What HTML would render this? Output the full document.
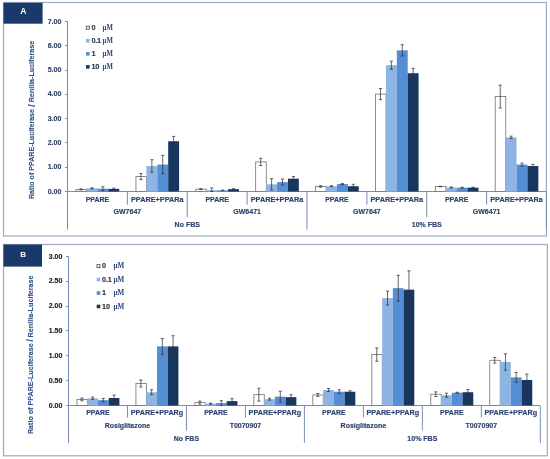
<!DOCTYPE html>
<html><head><meta charset="utf-8"><title>PPARE luciferase assay</title>
<style>
html,body{margin:0;padding:0;background:#fff;}
body{width:550px;height:459px;overflow:hidden;}
svg{display:block;}
.s{font-family:'Liberation Sans', Arial, sans-serif;font-weight:bold;font-size:7px;}
.lt{fill:#fff;}
.ay{fill:#344466;stroke:#344466;stroke-width:0.15;}
.by{fill:#1E1E1E;stroke:#1E1E1E;stroke-width:0.15;}
.cl{fill:#2D436D;stroke:#2D436D;stroke-width:0.15;}
.yt{fill:#33508A;stroke:#33508A;stroke-width:0.12;}
.al{fill:#27324A;stroke:#27324A;stroke-width:0.1;font-size:7.4px;letter-spacing:-0.25px;}
.bl{fill:#2a2a2a;stroke:#2a2a2a;stroke-width:0.1;font-size:7.2px;letter-spacing:-0.15px;}
.mu{font-family:'Liberation Serif', 'Times New Roman', serif;font-weight:bold;font-size:7.6px;fill:#2B4478;}
</style></head>
<body>
<svg width="550" height="459" viewBox="0 0 550 459">
<rect width="550" height="459" fill="#fff"/>
<rect x="3.5" y="2.5" width="542.9" height="233.5" fill="none" stroke="#9CAAC2" stroke-width="1.2"/>
<rect x="3.5" y="2.8" width="39.1" height="20.9" fill="#18396A"/>
<text class="s lt" x="23.4" y="14.2" text-anchor="middle" style="font-size:8.5px">A</text>
<line x1="65" y1="191.5" x2="67.5" y2="191.5" stroke="#7A8DB0" stroke-width="1"/>
<text class="s ay" x="61.3" y="193.6" text-anchor="end">0.00</text>
<line x1="65" y1="167.5" x2="67.5" y2="167.5" stroke="#7A8DB0" stroke-width="1"/>
<text class="s ay" x="61.3" y="169.31" text-anchor="end">1.00</text>
<line x1="65" y1="142.5" x2="67.5" y2="142.5" stroke="#7A8DB0" stroke-width="1"/>
<text class="s ay" x="61.3" y="145.03" text-anchor="end">2.00</text>
<line x1="65" y1="118.5" x2="67.5" y2="118.5" stroke="#7A8DB0" stroke-width="1"/>
<text class="s ay" x="61.3" y="120.74" text-anchor="end">3.00</text>
<line x1="65" y1="94.5" x2="67.5" y2="94.5" stroke="#7A8DB0" stroke-width="1"/>
<text class="s ay" x="61.3" y="96.46" text-anchor="end">4.00</text>
<line x1="65" y1="70.5" x2="67.5" y2="70.5" stroke="#7A8DB0" stroke-width="1"/>
<text class="s ay" x="61.3" y="72.17" text-anchor="end">5.00</text>
<line x1="65" y1="45.5" x2="67.5" y2="45.5" stroke="#7A8DB0" stroke-width="1"/>
<text class="s ay" x="61.3" y="47.89" text-anchor="end">6.00</text>
<line x1="65" y1="21.5" x2="67.5" y2="21.5" stroke="#7A8DB0" stroke-width="1"/>
<text class="s ay" x="61.3" y="23.6" text-anchor="end">7.00</text>
<line x1="67.5" y1="21.5" x2="67.5" y2="229.5" stroke="#7A8DB0" stroke-width="1"/>
<line x1="65" y1="191.5" x2="546.5" y2="191.5" stroke="#7A8DB0" stroke-width="1"/>
<line x1="127.38" y1="191.5" x2="127.38" y2="204.7" stroke="#7A8DB0" stroke-width="1"/>
<line x1="187.25" y1="191.5" x2="187.25" y2="217.2" stroke="#7A8DB0" stroke-width="1"/>
<line x1="247.12" y1="191.5" x2="247.12" y2="204.7" stroke="#7A8DB0" stroke-width="1"/>
<line x1="307" y1="191.5" x2="307" y2="229.5" stroke="#7A8DB0" stroke-width="1"/>
<line x1="366.88" y1="191.5" x2="366.88" y2="204.7" stroke="#7A8DB0" stroke-width="1"/>
<line x1="426.75" y1="191.5" x2="426.75" y2="217.2" stroke="#7A8DB0" stroke-width="1"/>
<line x1="486.62" y1="191.5" x2="486.62" y2="204.7" stroke="#7A8DB0" stroke-width="1"/>
<line x1="546.5" y1="191.5" x2="546.5" y2="229.5" stroke="#7A8DB0" stroke-width="1"/>
<rect x="76.06" y="189.4" width="10.59" height="2.1" fill="#fff" stroke="#707070" stroke-width="0.8"/>
<rect x="86.55" y="188.3" width="10.89" height="3.2" fill="#8EB4E3"/>
<rect x="97.44" y="188.67" width="10.89" height="2.83" fill="#558ED5"/>
<rect x="108.32" y="188.91" width="10.89" height="2.59" fill="#17375E"/>
<path d="M81.11 188.91V189.88M79.51 188.91H82.71M79.51 189.88H82.71" stroke="#333333" stroke-width="0.75" fill="none"/>
<path d="M91.99 187.82V188.79M90.39 187.82H93.59M90.39 188.79H93.59" stroke="#333333" stroke-width="0.75" fill="none"/>
<path d="M102.88 186.72V190.61M101.28 186.72H104.48M101.28 190.61H104.48" stroke="#333333" stroke-width="0.75" fill="none"/>
<path d="M113.77 188.18V189.64M112.17 188.18H115.37M112.17 189.64H115.37" stroke="#333333" stroke-width="0.75" fill="none"/>
<rect x="135.94" y="176.51" width="10.59" height="14.99" fill="#fff" stroke="#707070" stroke-width="0.8"/>
<rect x="146.43" y="166.06" width="10.89" height="25.44" fill="#8EB4E3"/>
<rect x="157.31" y="164.6" width="10.89" height="26.9" fill="#558ED5"/>
<rect x="168.2" y="141.26" width="10.89" height="50.24" fill="#17375E"/>
<path d="M140.98 173.48V179.55M139.38 173.48H142.58M139.38 179.55H142.58" stroke="#333333" stroke-width="0.75" fill="none"/>
<path d="M151.87 159.74V172.38M150.27 159.74H153.47M150.27 172.38H153.47" stroke="#333333" stroke-width="0.75" fill="none"/>
<path d="M162.76 155.36V173.84M161.16 155.36H164.36M161.16 173.84H164.36" stroke="#333333" stroke-width="0.75" fill="none"/>
<path d="M173.64 136.4V146.13M172.04 136.4H175.24M172.04 146.13H175.24" stroke="#333333" stroke-width="0.75" fill="none"/>
<rect x="195.81" y="189.16" width="10.59" height="2.34" fill="#fff" stroke="#707070" stroke-width="0.8"/>
<rect x="206.3" y="190.13" width="10.89" height="1.37" fill="#8EB4E3"/>
<rect x="217.19" y="190.37" width="10.89" height="1.13" fill="#558ED5"/>
<rect x="228.07" y="189.16" width="10.89" height="2.34" fill="#17375E"/>
<path d="M200.86 188.67V189.64M199.26 188.67H202.46M199.26 189.64H202.46" stroke="#333333" stroke-width="0.75" fill="none"/>
<path d="M211.74 187.94V191.5M210.14 187.94H213.34M210.14 191.5H213.34" stroke="#333333" stroke-width="0.75" fill="none"/>
<path d="M222.63 190.13V190.61M221.03 190.13H224.23M221.03 190.61H224.23" stroke="#333333" stroke-width="0.75" fill="none"/>
<path d="M233.52 188.67V189.64M231.92 188.67H235.12M231.92 189.64H235.12" stroke="#333333" stroke-width="0.75" fill="none"/>
<rect x="255.69" y="161.93" width="10.59" height="29.57" fill="#fff" stroke="#707070" stroke-width="0.8"/>
<rect x="266.18" y="184.29" width="10.89" height="7.21" fill="#8EB4E3"/>
<rect x="277.06" y="182.11" width="10.89" height="9.39" fill="#558ED5"/>
<rect x="287.95" y="178.7" width="10.89" height="12.8" fill="#17375E"/>
<path d="M260.73 158.28V165.57M259.13 158.28H262.33M259.13 165.57H262.33" stroke="#333333" stroke-width="0.75" fill="none"/>
<path d="M271.62 178.7V189.88M270.02 178.7H273.22M270.02 189.88H273.22" stroke="#333333" stroke-width="0.75" fill="none"/>
<path d="M282.51 179.07V185.14M280.91 179.07H284.11M280.91 185.14H284.11" stroke="#333333" stroke-width="0.75" fill="none"/>
<path d="M293.39 176.51V180.89M291.79 176.51H294.99M291.79 180.89H294.99" stroke="#333333" stroke-width="0.75" fill="none"/>
<rect x="315.56" y="186.48" width="10.59" height="5.02" fill="#fff" stroke="#707070" stroke-width="0.8"/>
<rect x="326.05" y="186.24" width="10.89" height="5.26" fill="#8EB4E3"/>
<rect x="336.94" y="184.05" width="10.89" height="7.45" fill="#558ED5"/>
<rect x="347.82" y="186.24" width="10.89" height="5.26" fill="#17375E"/>
<path d="M320.61 185.75V187.21M319.01 185.75H322.21M319.01 187.21H322.21" stroke="#333333" stroke-width="0.75" fill="none"/>
<path d="M331.49 185.75V186.72M329.89 185.75H333.09M329.89 186.72H333.09" stroke="#333333" stroke-width="0.75" fill="none"/>
<path d="M342.38 183.56V184.54M340.78 183.56H343.98M340.78 184.54H343.98" stroke="#333333" stroke-width="0.75" fill="none"/>
<path d="M353.27 184.29V188.18M351.67 184.29H354.87M351.67 188.18H354.87" stroke="#333333" stroke-width="0.75" fill="none"/>
<rect x="375.44" y="94.1" width="10.59" height="97.4" fill="#fff" stroke="#707070" stroke-width="0.8"/>
<rect x="385.93" y="65.17" width="10.89" height="126.33" fill="#8EB4E3"/>
<rect x="396.81" y="50.35" width="10.89" height="141.15" fill="#558ED5"/>
<rect x="407.7" y="73.2" width="10.89" height="118.3" fill="#17375E"/>
<path d="M380.48 88.51V99.69M378.88 88.51H382.08M378.88 99.69H382.08" stroke="#333333" stroke-width="0.75" fill="none"/>
<path d="M391.37 61.16V69.19M389.77 61.16H392.97M389.77 69.19H392.97" stroke="#333333" stroke-width="0.75" fill="none"/>
<path d="M402.26 44.75V55.94M400.66 44.75H403.86M400.66 55.94H403.86" stroke="#333333" stroke-width="0.75" fill="none"/>
<path d="M413.14 68.33V78.06M411.54 68.33H414.74M411.54 78.06H414.74" stroke="#333333" stroke-width="0.75" fill="none"/>
<rect x="435.31" y="186.48" width="10.59" height="5.02" fill="#fff" stroke="#707070" stroke-width="0.8"/>
<rect x="445.8" y="187.45" width="10.89" height="4.05" fill="#8EB4E3"/>
<rect x="456.69" y="187.7" width="10.89" height="3.8" fill="#558ED5"/>
<rect x="467.57" y="187.7" width="10.89" height="3.8" fill="#17375E"/>
<path d="M440.36 186.24V186.72M438.76 186.24H441.96M438.76 186.72H441.96" stroke="#333333" stroke-width="0.75" fill="none"/>
<path d="M451.24 186.97V187.94M449.64 186.97H452.84M449.64 187.94H452.84" stroke="#333333" stroke-width="0.75" fill="none"/>
<path d="M462.13 187.21V188.18M460.53 187.21H463.73M460.53 188.18H463.73" stroke="#333333" stroke-width="0.75" fill="none"/>
<path d="M473.02 187.21V188.18M471.42 187.21H474.62M471.42 188.18H474.62" stroke="#333333" stroke-width="0.75" fill="none"/>
<rect x="495.19" y="96.53" width="10.59" height="94.97" fill="#fff" stroke="#707070" stroke-width="0.8"/>
<rect x="505.68" y="137.37" width="10.89" height="54.13" fill="#8EB4E3"/>
<rect x="516.56" y="164.6" width="10.89" height="26.9" fill="#558ED5"/>
<rect x="527.45" y="166.06" width="10.89" height="25.44" fill="#17375E"/>
<path d="M500.23 85.11V107.96M498.63 85.11H501.83M498.63 107.96H501.83" stroke="#333333" stroke-width="0.75" fill="none"/>
<path d="M511.12 136.16V138.59M509.52 136.16H512.72M509.52 138.59H512.72" stroke="#333333" stroke-width="0.75" fill="none"/>
<path d="M522.01 163.14V166.06M520.41 163.14H523.61M520.41 166.06H523.61" stroke="#333333" stroke-width="0.75" fill="none"/>
<path d="M532.89 164.36V167.76M531.29 164.36H534.49M531.29 167.76H534.49" stroke="#333333" stroke-width="0.75" fill="none"/>
<text x="97.44" y="201.8" text-anchor="middle" class="s cl">PPARE</text>
<text x="157.31" y="201.8" text-anchor="middle" class="s cl" textLength="52.6" lengthAdjust="spacingAndGlyphs">PPARE+PPARa</text>
<text x="217.19" y="201.8" text-anchor="middle" class="s cl">PPARE</text>
<text x="277.06" y="201.8" text-anchor="middle" class="s cl" textLength="52.6" lengthAdjust="spacingAndGlyphs">PPARE+PPARa</text>
<text x="336.94" y="201.8" text-anchor="middle" class="s cl">PPARE</text>
<text x="396.81" y="201.8" text-anchor="middle" class="s cl" textLength="52.6" lengthAdjust="spacingAndGlyphs">PPARE+PPARa</text>
<text x="456.69" y="201.8" text-anchor="middle" class="s cl">PPARE</text>
<text x="516.56" y="201.8" text-anchor="middle" class="s cl" textLength="52.6" lengthAdjust="spacingAndGlyphs">PPARE+PPARa</text>
<text x="127.38" y="214.4" text-anchor="middle" class="s cl">GW7647</text>
<text x="247.12" y="214.4" text-anchor="middle" class="s cl">GW6471</text>
<text x="366.88" y="214.4" text-anchor="middle" class="s cl">GW7647</text>
<text x="486.62" y="214.4" text-anchor="middle" class="s cl">GW6471</text>
<text x="187.25" y="226.9" text-anchor="middle" class="s cl">No FBS</text>
<text x="426.75" y="226.9" text-anchor="middle" class="s cl">10% FBS</text>
<g class="s yt" transform="translate(34.4,0) rotate(-90)">
<text x="-199.1" y="0" textLength="90.1" lengthAdjust="spacingAndGlyphs">Ratio of PPARE-Luciferase</text>
<text x="-105.6" y="0.3" text-anchor="middle" font-size="8.6">/</text>
<text x="-102.3" y="0" textLength="61.4" lengthAdjust="spacingAndGlyphs">Renilla-Luciferase</text>
</g>
<rect x="86.3" y="26.2" width="3" height="3" fill="#fff" stroke="#555" stroke-width="0.9"/>
<text x="91.4" y="30.3" class="s al">0</text>
<text x="102.6" y="29.9" class="mu" textLength="10.4" lengthAdjust="spacingAndGlyphs">µM</text>
<rect x="86" y="38.95" width="3.6" height="3.6" fill="#8EB4E3"/>
<text x="91.4" y="43.35" class="s al">0.1</text>
<text x="102.6" y="42.95" class="mu" textLength="10.4" lengthAdjust="spacingAndGlyphs">µM</text>
<rect x="86" y="52" width="3.6" height="3.6" fill="#558ED5"/>
<text x="91.4" y="56.4" class="s al">1</text>
<text x="102.6" y="56" class="mu" textLength="10.4" lengthAdjust="spacingAndGlyphs">µM</text>
<rect x="86" y="65.05" width="3.6" height="3.6" fill="#17375E"/>
<text x="91.4" y="69.45" class="s al">10</text>
<text x="102.6" y="69.05" class="mu" textLength="10.4" lengthAdjust="spacingAndGlyphs">µM</text>
<rect x="3.5" y="244.5" width="543.8" height="211.3" fill="none" stroke="#9CAAC2" stroke-width="1.2"/>
<rect x="3.5" y="244.5" width="38.5" height="22.1" fill="#18396A"/>
<text class="s lt" x="23.2" y="256.8" text-anchor="middle" style="font-size:8px">B</text>
<line x1="66" y1="405.5" x2="68.5" y2="405.5" stroke="#7A8DB0" stroke-width="1"/>
<text class="s by" x="62.4" y="407.6" text-anchor="end">0.00</text>
<line x1="66" y1="380.5" x2="68.5" y2="380.5" stroke="#7A8DB0" stroke-width="1"/>
<text class="s by" x="62.4" y="382.77" text-anchor="end">0.50</text>
<line x1="66" y1="355.5" x2="68.5" y2="355.5" stroke="#7A8DB0" stroke-width="1"/>
<text class="s by" x="62.4" y="357.93" text-anchor="end">1.00</text>
<line x1="66" y1="330.5" x2="68.5" y2="330.5" stroke="#7A8DB0" stroke-width="1"/>
<text class="s by" x="62.4" y="333.1" text-anchor="end">1.50</text>
<line x1="66" y1="306.5" x2="68.5" y2="306.5" stroke="#7A8DB0" stroke-width="1"/>
<text class="s by" x="62.4" y="308.27" text-anchor="end">2.00</text>
<line x1="66" y1="281.5" x2="68.5" y2="281.5" stroke="#7A8DB0" stroke-width="1"/>
<text class="s by" x="62.4" y="283.43" text-anchor="end">2.50</text>
<line x1="66" y1="256.5" x2="68.5" y2="256.5" stroke="#7A8DB0" stroke-width="1"/>
<text class="s by" x="62.4" y="258.6" text-anchor="end">3.00</text>
<line x1="68.5" y1="256.5" x2="68.5" y2="443" stroke="#7A8DB0" stroke-width="1"/>
<line x1="66" y1="405.5" x2="540.3" y2="405.5" stroke="#7A8DB0" stroke-width="1"/>
<line x1="127.47" y1="405.5" x2="127.47" y2="417.6" stroke="#7A8DB0" stroke-width="1"/>
<line x1="186.45" y1="405.5" x2="186.45" y2="430.6" stroke="#7A8DB0" stroke-width="1"/>
<line x1="245.42" y1="405.5" x2="245.42" y2="417.6" stroke="#7A8DB0" stroke-width="1"/>
<line x1="304.4" y1="405.5" x2="304.4" y2="443" stroke="#7A8DB0" stroke-width="1"/>
<line x1="363.38" y1="405.5" x2="363.38" y2="417.6" stroke="#7A8DB0" stroke-width="1"/>
<line x1="422.35" y1="405.5" x2="422.35" y2="430.6" stroke="#7A8DB0" stroke-width="1"/>
<line x1="481.32" y1="405.5" x2="481.32" y2="417.6" stroke="#7A8DB0" stroke-width="1"/>
<line x1="540.3" y1="405.5" x2="540.3" y2="443" stroke="#7A8DB0" stroke-width="1"/>
<rect x="76.94" y="399.4" width="10.42" height="6.1" fill="#fff" stroke="#707070" stroke-width="0.8"/>
<rect x="87.26" y="398.31" width="10.72" height="7.19" fill="#8EB4E3"/>
<rect x="97.99" y="400.15" width="10.72" height="5.35" fill="#558ED5"/>
<rect x="108.71" y="398.01" width="10.72" height="7.49" fill="#17375E"/>
<path d="M81.9 398.06V400.74M80.3 398.06H83.5M80.3 400.74H83.5" stroke="#333333" stroke-width="0.75" fill="none"/>
<path d="M92.63 397.07V399.55M91.03 397.07H94.23M91.03 399.55H94.23" stroke="#333333" stroke-width="0.75" fill="none"/>
<path d="M103.35 398.41V401.88M101.75 398.41H104.95M101.75 401.88H104.95" stroke="#333333" stroke-width="0.75" fill="none"/>
<path d="M114.07 395.04V400.99M112.47 395.04H115.67M112.47 400.99H115.67" stroke="#333333" stroke-width="0.75" fill="none"/>
<rect x="135.92" y="383.5" width="10.42" height="22" fill="#fff" stroke="#707070" stroke-width="0.8"/>
<rect x="146.24" y="392.22" width="10.72" height="13.28" fill="#8EB4E3"/>
<rect x="156.96" y="346.38" width="10.72" height="59.12" fill="#558ED5"/>
<rect x="167.69" y="346.38" width="10.72" height="59.12" fill="#17375E"/>
<path d="M140.88 380.03V386.96M139.28 380.03H142.48M139.28 386.96H142.48" stroke="#333333" stroke-width="0.75" fill="none"/>
<path d="M151.6 389.74V394.69M150 389.74H153.2M150 394.69H153.2" stroke="#333333" stroke-width="0.75" fill="none"/>
<path d="M162.32 338.46V354.31M160.72 338.46H163.92M160.72 354.31H163.92" stroke="#333333" stroke-width="0.75" fill="none"/>
<path d="M173.05 335.73V357.04M171.45 335.73H174.65M171.45 357.04H174.65" stroke="#333333" stroke-width="0.75" fill="none"/>
<rect x="194.89" y="402.62" width="10.42" height="2.88" fill="#fff" stroke="#707070" stroke-width="0.8"/>
<rect x="205.21" y="403.61" width="10.72" height="1.89" fill="#8EB4E3"/>
<rect x="215.94" y="403.12" width="10.72" height="2.38" fill="#558ED5"/>
<rect x="226.66" y="401.14" width="10.72" height="4.36" fill="#17375E"/>
<path d="M199.85 401.14V404.11M198.25 401.14H201.45M198.25 404.11H201.45" stroke="#333333" stroke-width="0.75" fill="none"/>
<path d="M210.58 403.12V404.11M208.98 403.12H212.18M208.98 404.11H212.18" stroke="#333333" stroke-width="0.75" fill="none"/>
<path d="M221.3 400.64V405.5M219.7 400.64H222.9M219.7 405.5H222.9" stroke="#333333" stroke-width="0.75" fill="none"/>
<path d="M232.02 398.66V403.61M230.42 398.66H233.62M230.42 403.61H233.62" stroke="#333333" stroke-width="0.75" fill="none"/>
<rect x="253.87" y="394.69" width="10.42" height="10.81" fill="#fff" stroke="#707070" stroke-width="0.8"/>
<rect x="264.19" y="399.15" width="10.72" height="6.35" fill="#8EB4E3"/>
<rect x="274.91" y="396.68" width="10.72" height="8.82" fill="#558ED5"/>
<rect x="285.64" y="397.17" width="10.72" height="8.33" fill="#17375E"/>
<path d="M258.83 388.25V401.14M257.23 388.25H260.43M257.23 401.14H260.43" stroke="#333333" stroke-width="0.75" fill="none"/>
<path d="M269.55 398.16V400.15M267.95 398.16H271.15M267.95 400.15H271.15" stroke="#333333" stroke-width="0.75" fill="none"/>
<path d="M280.27 391.23V402.13M278.67 391.23H281.87M278.67 402.13H281.87" stroke="#333333" stroke-width="0.75" fill="none"/>
<path d="M291 394.69V399.65M289.4 394.69H292.6M289.4 399.65H292.6" stroke="#333333" stroke-width="0.75" fill="none"/>
<rect x="312.84" y="394.94" width="10.42" height="10.56" fill="#fff" stroke="#707070" stroke-width="0.8"/>
<rect x="323.16" y="389.99" width="10.72" height="15.51" fill="#8EB4E3"/>
<rect x="333.89" y="391.72" width="10.72" height="13.78" fill="#558ED5"/>
<rect x="344.61" y="391.72" width="10.72" height="13.78" fill="#17375E"/>
<path d="M317.8 393.46V396.43M316.2 393.46H319.4M316.2 396.43H319.4" stroke="#333333" stroke-width="0.75" fill="none"/>
<path d="M328.53 388.5V391.47M326.93 388.5H330.13M326.93 391.47H330.13" stroke="#333333" stroke-width="0.75" fill="none"/>
<path d="M339.25 389.74V393.7M337.65 389.74H340.85M337.65 393.7H340.85" stroke="#333333" stroke-width="0.75" fill="none"/>
<path d="M349.97 390.73V392.71M348.37 390.73H351.57M348.37 392.71H351.57" stroke="#333333" stroke-width="0.75" fill="none"/>
<rect x="371.82" y="354.56" width="10.42" height="50.94" fill="#fff" stroke="#707070" stroke-width="0.8"/>
<rect x="382.14" y="298.07" width="10.72" height="107.43" fill="#8EB4E3"/>
<rect x="392.86" y="288.16" width="10.72" height="117.34" fill="#558ED5"/>
<rect x="403.59" y="289.65" width="10.72" height="115.85" fill="#17375E"/>
<path d="M376.78 347.87V361.25M375.18 347.87H378.38M375.18 361.25H378.38" stroke="#333333" stroke-width="0.75" fill="none"/>
<path d="M387.5 291.14V305.01M385.9 291.14H389.1M385.9 305.01H389.1" stroke="#333333" stroke-width="0.75" fill="none"/>
<path d="M398.22 275.28V301.05M396.62 275.28H399.82M396.62 301.05H399.82" stroke="#333333" stroke-width="0.75" fill="none"/>
<path d="M408.95 270.82V308.48M407.35 270.82H410.55M407.35 308.48H410.55" stroke="#333333" stroke-width="0.75" fill="none"/>
<rect x="430.79" y="394.2" width="10.42" height="11.3" fill="#fff" stroke="#707070" stroke-width="0.8"/>
<rect x="441.11" y="395.19" width="10.72" height="10.31" fill="#8EB4E3"/>
<rect x="451.84" y="392.71" width="10.72" height="12.79" fill="#558ED5"/>
<rect x="462.56" y="392.22" width="10.72" height="13.28" fill="#17375E"/>
<path d="M435.75 391.87V396.53M434.15 391.87H437.35M434.15 396.53H437.35" stroke="#333333" stroke-width="0.75" fill="none"/>
<path d="M446.48 393.21V397.17M444.88 393.21H448.08M444.88 397.17H448.08" stroke="#333333" stroke-width="0.75" fill="none"/>
<path d="M457.2 392.22V393.21M455.6 392.22H458.8M455.6 393.21H458.8" stroke="#333333" stroke-width="0.75" fill="none"/>
<path d="M467.92 389.49V394.94M466.32 389.49H469.52M466.32 394.94H469.52" stroke="#333333" stroke-width="0.75" fill="none"/>
<rect x="489.77" y="360.26" width="10.42" height="45.24" fill="#fff" stroke="#707070" stroke-width="0.8"/>
<rect x="500.09" y="361.99" width="10.72" height="43.51" fill="#8EB4E3"/>
<rect x="510.81" y="377.35" width="10.72" height="28.15" fill="#558ED5"/>
<rect x="521.54" y="380.03" width="10.72" height="25.47" fill="#17375E"/>
<path d="M494.73 357.43V363.08M493.13 357.43H496.33M493.13 363.08H496.33" stroke="#333333" stroke-width="0.75" fill="none"/>
<path d="M505.45 353.82V370.17M503.85 353.82H507.05M503.85 370.17H507.05" stroke="#333333" stroke-width="0.75" fill="none"/>
<path d="M516.17 372.4V382.31M514.57 372.4H517.77M514.57 382.31H517.77" stroke="#333333" stroke-width="0.75" fill="none"/>
<path d="M526.9 374.08V385.97M525.3 374.08H528.5M525.3 385.97H528.5" stroke="#333333" stroke-width="0.75" fill="none"/>
<text x="97.99" y="415.1" text-anchor="middle" class="s cl">PPARE</text>
<text x="156.96" y="415.1" text-anchor="middle" class="s cl" textLength="52.6" lengthAdjust="spacingAndGlyphs">PPARE+PPARg</text>
<text x="215.94" y="415.1" text-anchor="middle" class="s cl">PPARE</text>
<text x="274.91" y="415.1" text-anchor="middle" class="s cl" textLength="52.6" lengthAdjust="spacingAndGlyphs">PPARE+PPARg</text>
<text x="333.89" y="415.1" text-anchor="middle" class="s cl">PPARE</text>
<text x="392.86" y="415.1" text-anchor="middle" class="s cl" textLength="52.6" lengthAdjust="spacingAndGlyphs">PPARE+PPARg</text>
<text x="451.84" y="415.1" text-anchor="middle" class="s cl">PPARE</text>
<text x="510.81" y="415.1" text-anchor="middle" class="s cl" textLength="52.6" lengthAdjust="spacingAndGlyphs">PPARE+PPARg</text>
<text x="127.47" y="428" text-anchor="middle" class="s cl">Rosiglitazone</text>
<text x="245.42" y="428" text-anchor="middle" class="s cl">T0070907</text>
<text x="363.38" y="428" text-anchor="middle" class="s cl">Rosiglitazone</text>
<text x="481.32" y="428" text-anchor="middle" class="s cl">T0070907</text>
<text x="186.45" y="440.9" text-anchor="middle" class="s cl">No FBS</text>
<text x="422.35" y="440.9" text-anchor="middle" class="s cl">10% FBS</text>
<g class="s yt" transform="translate(33.1,0) rotate(-90)">
<text x="-434.1" y="0" textLength="90.8" lengthAdjust="spacingAndGlyphs">Ratio of PPARE-Luciferase</text>
<text x="-340.4" y="0.3" text-anchor="middle" font-size="8.6">/</text>
<text x="-337.4" y="0" textLength="62" lengthAdjust="spacingAndGlyphs">Renilla-Luciferase</text>
</g>
<rect x="97" y="264.6" width="3" height="3" fill="#fff" stroke="#555" stroke-width="0.9"/>
<text x="102.1" y="268.2" class="s bl">0</text>
<text x="113.4" y="268.3" class="mu" textLength="10.8" lengthAdjust="spacingAndGlyphs">µM</text>
<rect x="96.7" y="277.75" width="3.6" height="3.6" fill="#8EB4E3"/>
<text x="102.1" y="281.65" class="s bl">0.1</text>
<text x="113.4" y="281.75" class="mu" textLength="10.8" lengthAdjust="spacingAndGlyphs">µM</text>
<rect x="96.7" y="291.2" width="3.6" height="3.6" fill="#558ED5"/>
<text x="102.1" y="295.1" class="s bl">1</text>
<text x="113.4" y="295.2" class="mu" textLength="10.8" lengthAdjust="spacingAndGlyphs">µM</text>
<rect x="96.7" y="304.65" width="3.6" height="3.6" fill="#17375E"/>
<text x="102.1" y="308.55" class="s bl">10</text>
<text x="113.4" y="308.65" class="mu" textLength="10.8" lengthAdjust="spacingAndGlyphs">µM</text>
</svg>
</body></html>
